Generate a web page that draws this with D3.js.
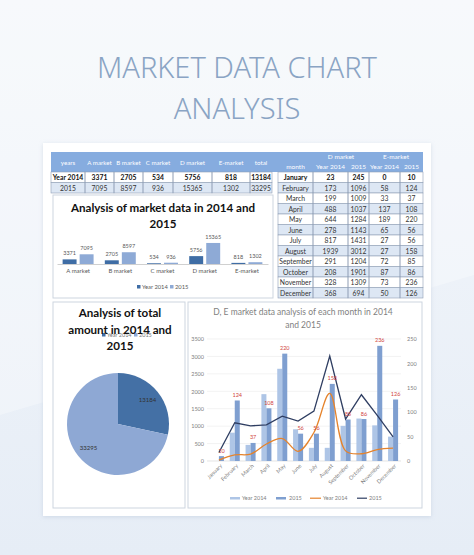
<!DOCTYPE html>
<html><head><meta charset="utf-8">
<script src="https://cdn.jsdelivr.net/npm/d3@7"></script>
<style>body{margin:0;background:#eaf0f8}svg{display:block}text{font-family:Lato,"Open Sans",sans-serif}</style>
</head><body><svg id="c" width="474" height="555"></svg>
<script>
// ---------- data ----------
const summaryHeader = ["years","A market","B market","C market","D market","E-market","total"];
const summaryRow2014 = ["Year 2014",3371,2705,534,5756,818,13184];
const summaryRow2015 = ["2015",7095,8597,936,15365,1302,33295];
const markets = ["A market","B market","C market","D market","E-market"];
const market2014 = [3371,2705,534,5756,818];
const market2015 = [7095,8597,936,15365,1302];
const totalLabels = ["Year 2014","2015"];
const totals = [13184,33295];
const months = ["January","February","March","April","May","June","July","August","September","October","November","December"];
const d2014 = [23,173,199,488,644,278,817,1939,291,208,328,368];
const d2015 = [245,1096,1009,1037,1284,1143,1431,3012,1204,1901,1309,694];
const e2014 = [0,58,33,137,189,65,27,27,72,87,73,50];
const e2015 = [10,124,37,108,220,56,56,158,85,86,236,126];
const leftTicks = [0,500,1000,1500,2000,2500,3000,3500];
const rightTicks = [0,50,100,150,200,250];

const svg = d3.select("#c");

// ---------- background ----------
const defs = svg.append("defs");
const g1 = defs.append("linearGradient").attr("id","bg").attr("x1",0).attr("y1",0).attr("x2",0).attr("y2",1);
g1.append("stop").attr("offset","0").attr("stop-color","#f4f7fb");
g1.append("stop").attr("offset","1").attr("stop-color","#e6edf6");
svg.append("rect").attr("width",474).attr("height",555).attr("fill","url(#bg)");
svg.append("path").attr("d","M0,0 L474,0 L474,275 L0,415 Z").attr("fill","#ffffff").attr("opacity",0.3);
const sh = defs.append("filter").attr("id","sh").attr("x","-5%").attr("y","-5%").attr("width","110%").attr("height","110%");
sh.append("feDropShadow").attr("dx",0).attr("dy",1).attr("stdDeviation",2).attr("flood-color","#9fb0c8").attr("flood-opacity",0.35);

// title
svg.append("text").attr("x",237).attr("y",78).attr("text-anchor","middle")
  .attr("font-size",29).attr("font-weight",300).attr("fill","#8aa4c4").style("font-family","'Noto Sans',sans-serif")
  .text("MARKET DATA CHART");
svg.append("text").attr("x",237).attr("y",119).attr("text-anchor","middle")
  .attr("font-size",29).attr("font-weight",300).attr("fill","#8aa4c4").style("font-family","'Noto Sans',sans-serif")
  .text("ANALYSIS");

// card
svg.append("rect").attr("x",43).attr("y",143).attr("width",388).attr("height",373).attr("fill","#fff").attr("filter","url(#sh)");

// ---------- tables ----------
const hdrFill = "#86acdf", altFill = "#dde7f4", gridStroke = "#8f9fb5";
svg.append("rect").attr("x",51).attr("y",152).attr("width",372).attr("height",20).attr("fill",hdrFill);

// left summary table
const lcols = [51,85,114,143,173,212,250,272];
summaryHeader.forEach((h,i)=>{
  svg.append("text").attr("x",(lcols[i]+lcols[i+1])/2).attr("y",165).attr("text-anchor","middle")
    .attr("font-size",6.2).attr("fill","#fff").text(h);
});
[summaryRow2014, summaryRow2015].forEach((row,r)=>{
  const y0 = 172 + r*10.5;
  svg.append("rect").attr("x",51).attr("y",y0).attr("width",221).attr("height",10.5)
    .attr("fill", r%2 ? altFill : "#fff");
  row.forEach((v,i)=>{
    svg.append("rect").attr("x",lcols[i]).attr("y",y0).attr("width",lcols[i+1]-lcols[i]).attr("height",10.5)
      .attr("fill","none").attr("stroke",gridStroke).attr("stroke-width",0.6);
    svg.append("text").attr("x",(lcols[i]+lcols[i+1])/2).attr("y",y0+8).attr("text-anchor","middle")
      .attr("font-size",6.8).attr("font-weight", r===0 ? "bold" : "normal").attr("fill", r===0 ? "#111" : "#333").text(v);
  });
});

// right monthly table
const rcols = [278,313,348,369,400,423];
svg.append("text").attr("x",(rcols[1]+rcols[3])/2).attr("y",159).attr("text-anchor","middle").attr("font-size",6.5).attr("fill","#fff").text("D market");
svg.append("text").attr("x",(rcols[3]+rcols[5])/2).attr("y",159).attr("text-anchor","middle").attr("font-size",6.5).attr("fill","#fff").text("E-market");
["month","Year 2014","2015","Year 2014","2015"].forEach((h,i)=>{
  svg.append("text").attr("x",(rcols[i]+rcols[i+1])/2).attr("y",168.5).attr("text-anchor","middle").attr("font-size",6.5).attr("fill","#fff").text(h);
});
months.forEach((m,r)=>{
  const y0 = 172 + r*10.5;
  const row = [m, d2014[r], d2015[r], e2014[r], e2015[r]];
  svg.append("rect").attr("x",rcols[0]).attr("y",y0).attr("width",rcols[5]-rcols[0]).attr("height",10.5)
    .attr("fill", r%2 ? altFill : "#fff");
  row.forEach((v,i)=>{
    svg.append("rect").attr("x",rcols[i]).attr("y",y0).attr("width",rcols[i+1]-rcols[i]).attr("height",10.5)
      .attr("fill","none").attr("stroke",gridStroke).attr("stroke-width",0.6);
    svg.append("text").attr("x",(rcols[i]+rcols[i+1])/2).attr("y",y0+8).attr("text-anchor","middle")
      .attr("font-size",6.8).attr("font-weight", r===0 ? "bold" : "normal").attr("fill", r===0 ? "#111" : "#333").text(v);
  });
});

// ---------- panel frames ----------
const frame = (x,y,w,h)=>svg.append("rect").attr("x",x).attr("y",y).attr("width",w).attr("height",h)
  .attr("fill","#fff").attr("stroke","#cdd5df").attr("stroke-width",1);
frame(53,195,220,103);
frame(53,302,132,206);
frame(188,302,234,206);

// ---------- bar chart (top-left) ----------
const dark = "#3f6da5", light = "#8eaad6";
svg.append("text").attr("x",163).attr("y",212).attr("text-anchor","middle").attr("font-size",11.6).attr("font-weight","bold").attr("fill","#111").text("Analysis of market data in 2014 and");
svg.append("text").attr("x",163).attr("y",227.5).attr("text-anchor","middle").attr("font-size",11.6).attr("font-weight","bold").attr("fill","#111").text("2015");
const bx = d3.scaleBand().domain(markets).range([57,268]);
const bxi = d3.scaleBand().domain(["2014","2015"]).range([0,bx.bandwidth()]).paddingInner(0.18).paddingOuter(0.33);
const by = d3.scaleLinear().domain([0,16000]).range([264,242.1]);
const bg = svg.append("g");
markets.forEach((m,i)=>{
  [["2014",market2014[i],dark],["2015",market2015[i],light]].forEach(([k,v,c])=>{
    bg.append("rect").attr("x",bx(m)+bxi(k)).attr("y",by(v)).attr("width",bxi.bandwidth()).attr("height",by(0)-by(v)).attr("fill",c);
    bg.append("text").attr("x",bx(m)+bxi(k)+bxi.bandwidth()/2).attr("y",by(v)-4).attr("text-anchor","middle").attr("font-size",5.5).attr("fill","#595959").text(v);
  });
});
svg.append("g").attr("transform","translate(0,264)")
  .call(d3.axisBottom(bx).tickSize(0).tickPadding(5))
  .call(g=>{g.select(".domain").attr("stroke","#d0d0d0");g.selectAll("text").attr("font-size",6).attr("fill","#595959").style("font-family","Lato,sans-serif");});
const bl = svg.append("g").attr("transform","translate(137,289)");
bl.append("rect").attr("x",0).attr("y",-4).attr("width",3.5).attr("height",3.5).attr("fill",dark);
bl.append("text").attr("x",5).attr("y",0).attr("font-size",5.8).attr("fill","#595959").text(totalLabels[0]);
bl.append("rect").attr("x",33).attr("y",-4).attr("width",3.5).attr("height",3.5).attr("fill",light);
bl.append("text").attr("x",38).attr("y",0).attr("font-size",5.8).attr("fill","#595959").text(totalLabels[1]);

// ---------- pie ----------
const pieLegend = svg.append("g").attr("transform","translate(102,337)");
pieLegend.append("rect").attr("x",0).attr("y",-4).attr("width",3.5).attr("height",3.5).attr("fill",dark);
pieLegend.append("text").attr("x",5).attr("y",0).attr("font-size",5.5).attr("fill","#777").text(totalLabels[0]);
pieLegend.append("rect").attr("x",32).attr("y",-4).attr("width",3.5).attr("height",3.5).attr("fill",light);
pieLegend.append("text").attr("x",37).attr("y",0).attr("font-size",5.5).attr("fill","#777").text(totalLabels[1]);
["Analysis of total","amount in 2014 and","2015"].forEach((t,i)=>{
  svg.append("text").attr("x",120).attr("y",317+i*16.5).attr("text-anchor","middle").attr("font-size",11.6).attr("font-weight","bold").attr("fill","#111").text(t);
});
const pie = d3.pie().sort(null).value(d=>d)(totals);
const arc = d3.arc().innerRadius(0).outerRadius(51);
const labArc = d3.arc().innerRadius(38).outerRadius(38);
const pg = svg.append("g").attr("transform","translate(118,424)");
pg.selectAll("path").data(pie).join("path").attr("d",arc).attr("fill",(d,i)=>i===0? "#4470a5" : "#8ea8d4");
pg.selectAll("text").data(pie).join("text").attr("transform",d=>`translate(${labArc.centroid(d)})`)
  .attr("text-anchor","middle").attr("dy","0.35em").attr("font-size",6).attr("fill","#333").text(d=>d.data);

// ---------- combo chart ----------
svg.append("text").attr("x",303).attr("y",315).attr("text-anchor","middle").attr("font-size",8.5).attr("fill","#7f7f7f").text("D, E market data analysis of each month in 2014");
svg.append("text").attr("x",303).attr("y",327.5).attr("text-anchor","middle").attr("font-size",8.5).attr("fill","#7f7f7f").text("and 2015");
const cx = d3.scaleBand().domain(months).range([211,401]);
const cxi = d3.scaleBand().domain(["2014","2015"]).range([0,cx.bandwidth()]).paddingOuter(0.58);
const yL = d3.scaleLinear().domain([0,3500]).range([461,339]);
const yR = d3.scaleLinear().domain([0,250]).range([461,339]);
svg.append("g").selectAll("line").data(leftTicks).join("line")
  .attr("x1",207).attr("x2",401).attr("y1",d=>yL(d)).attr("y2",d=>yL(d)).attr("stroke",(d)=>d===0?"#d9d9d9":"#ececec").attr("stroke-width",0.7);
svg.append("g").attr("transform","translate(207,0)").call(d3.axisLeft(yL).tickValues(leftTicks).tickFormat(d3.format("d")).tickSize(0).tickPadding(3))
  .call(g=>{g.select(".domain").remove();g.selectAll("text").attr("font-size",5.5).attr("fill","#808080").style("font-family","Lato,sans-serif");});
svg.append("g").attr("transform","translate(404,0)").call(d3.axisRight(yR).tickValues(rightTicks).tickFormat(d3.format("d")).tickSize(0).tickPadding(3))
  .call(g=>{g.select(".domain").remove();g.selectAll("text").attr("font-size",5.5).attr("fill","#808080").style("font-family","Lato,sans-serif");});
const barLight = "#aec5e6", barDark = "#7f9fd0";
const cg = svg.append("g");
months.forEach((m,i)=>{
  cg.append("rect").attr("x",cx(m)+cxi("2014")).attr("y",yR(e2014[i])).attr("width",cxi.bandwidth()).attr("height",yR(0)-yR(e2014[i])).attr("fill",barLight);
  cg.append("rect").attr("x",cx(m)+cxi("2015")).attr("y",yR(e2015[i])).attr("width",cxi.bandwidth()).attr("height",yR(0)-yR(e2015[i])).attr("fill",barDark);
});
const mid = m=>cx(m)+cx.bandwidth()/2;
svg.append("path").datum(d2014).attr("fill","none").attr("stroke","#e5832c").attr("stroke-width",1.3)
  .attr("d",d3.line().x((d,i)=>mid(months[i])).y(d=>yL(d)).curve(d3.curveCatmullRom.alpha(0.5)));
svg.append("path").datum(d2015).attr("fill","none").attr("stroke","#2f3e62").attr("stroke-width",1.3)
  .attr("d",d3.line().x((d,i)=>mid(months[i])).y(d=>yL(d)));
months.forEach((m,i)=>{
  svg.append("text").attr("x",cx(m)+cxi("2015")+cxi.bandwidth()/2).attr("y",yR(e2015[i])-3.5).attr("text-anchor","middle")
    .attr("font-size",5.5).attr("fill","#d0443e").text(e2015[i]);
});
svg.append("g").attr("transform","translate(0,461)").call(d3.axisBottom(cx).tickSize(0).tickPadding(3))
  .call(g=>{g.select(".domain").remove();g.selectAll("text").attr("font-size",5.5).attr("fill","#808080").style("font-family","Lato,sans-serif")
    .attr("text-anchor","end").attr("transform","rotate(-45)").attr("dx","-0.2em").attr("dy","0.6em");});
const cl = svg.append("g").attr("transform","translate(0,500)");
cl.append("rect").attr("x",230).attr("y",-3).attr("width",10).attr("height",2.5).attr("fill",barLight);
cl.append("text").attr("x",242).attr("y",0).attr("font-size",5.5).attr("fill","#808080").text("Year 2014");
cl.append("rect").attr("x",276).attr("y",-3).attr("width",10).attr("height",2.5).attr("fill",barDark);
cl.append("text").attr("x",289).attr("y",0).attr("font-size",5.5).attr("fill","#808080").text("2015");
cl.append("line").attr("x1",310).attr("x2",321).attr("y1",-1.8).attr("y2",-1.8).attr("stroke","#e5832c").attr("stroke-width",1.2);
cl.append("text").attr("x",323).attr("y",0).attr("font-size",5.5).attr("fill","#808080").text("Year 2014");
cl.append("line").attr("x1",357).attr("x2",367).attr("y1",-1.8).attr("y2",-1.8).attr("stroke","#2f3e62").attr("stroke-width",1.2);
cl.append("text").attr("x",369).attr("y",0).attr("font-size",5.5).attr("fill","#808080").text("2015");
</script></body></html>
